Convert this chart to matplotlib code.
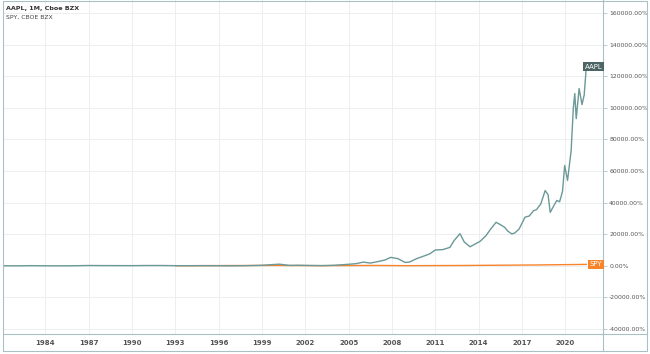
import matplotlib.pyplot as plt
from matplotlib.ticker import FuncFormatter
from matplotlib.lines import Line2D
from matplotlib.patches import Rectangle
import matplotlib.transforms as mtransforms

# AAPL 누적 수익률 (%) --- 그림에서 읽은 값
aapl_years = [1981.0, 1982.0, 1983.0, 1984.0, 1985.0, 1986.0, 1987.0, 1988.0,
              1989.0, 1990.0, 1991.0, 1992.0, 1993.0, 1994.0, 1995.0, 1996.0,
              1997.0, 1998.0, 1999.0, 2000.2, 2000.9, 2001.5, 2002.5, 2003.2,
              2004.0, 2004.8, 2005.5, 2006.0, 2006.5, 2007.0, 2007.5, 2007.9,
              2008.4, 2008.9, 2009.2, 2009.7, 2010.1, 2010.6, 2011.0, 2011.5,
              2012.0, 2012.3, 2012.7, 2013.0, 2013.4, 2013.7, 2014.1, 2014.5,
              2014.8, 2015.2, 2015.5, 2015.8, 2016.0, 2016.3, 2016.5, 2016.8,
              2017.2, 2017.5, 2017.8, 2018.0, 2018.3, 2018.6, 2018.8, 2018.95,
              2019.2, 2019.4, 2019.6, 2019.8, 2019.95, 2020.15, 2020.4, 2020.55,
              2020.65, 2020.75, 2020.95, 2021.15, 2021.3, 2021.45]
aapl_values = [0, -50, 60, -20, -40, 10, 150, 100,
               80, 60, 150, 150, 50, 30, 60, 0,
               -30, 60, 300, 1000, 200, 300, 150, 100,
               300, 800, 1300, 2300, 1700, 2600, 3600, 5300,
               4500, 2100, 2300, 4500, 5800, 7500, 10000, 10200,
               11600, 16000, 20300, 15000, 12000, 13500, 15500, 19000,
               22900, 27500, 26000, 24300, 22000, 20100, 20800, 23300,
               30700, 31500, 34900, 35500, 39200, 47600, 45000, 33800,
               38000, 41300, 40500, 47000, 63500, 54000, 73000, 100000,
               109000, 93100, 112200, 102000, 108000, 126000]

# SPY 누적 수익률 (%)
spy_years = [1993.0, 1996.0, 2000.0, 2003.0, 2007.0, 2009.0, 2013.0, 2018.0, 2021.45]
spy_values = [0, 100, 200, 60, 180, 40, 170, 500, 850]

x_ticks = [1984, 1987, 1990, 1993, 1996, 1999, 2002, 2005, 2008, 2011, 2014, 2017, 2020]
y_ticks = [-40000, -20000, 0, 20000, 40000, 60000, 80000, 100000, 120000, 140000, 160000]

aapl_color = '#6b9898'
spy_color = '#f7842b'
frame_color = '#a9c0c6'

fig = plt.figure(figsize=(6.5, 3.54), dpi=100)
ax = fig.add_axes([0.0046, 0.0565, 0.923, 0.9435])

ax.plot(spy_years, spy_values, color=spy_color, lw=1.0, zorder=2)
ax.plot(aapl_years, aapl_values, color=aapl_color, lw=1.0, zorder=3)

ax.set_xlim(1981.06, 2022.6)
ax.set_ylim(-43200, 168200)
ax.set_xticks(x_ticks)
ax.set_yticks(y_ticks)
ax.yaxis.tick_right()
ax.yaxis.set_major_formatter(FuncFormatter(lambda v, p: f'{v:.2f}%'))
ax.tick_params(axis='y', length=3, width=0.6, color='#b5c4c8', pad=1.5,
               labelsize=4.4, labelcolor='#555555')
ax.tick_params(axis='x', length=0, pad=4, labelsize=5.0, labelcolor='#555555')
for lbl in ax.get_xticklabels():
    lbl.set_fontweight('bold')

ax.grid(True, color='#eceff0', lw=0.7)
ax.set_axisbelow(True)
for side in ['top', 'left']:
    ax.spines[side].set_visible(False)
for side in ['right', 'bottom']:
    ax.spines[side].set_color(frame_color)
    ax.spines[side].set_linewidth(0.8)

# 바깥 테두리
fig.add_artist(Rectangle((0.0046, 0.0085), 0.991, 0.99, transform=fig.transFigure,
                         fill=False, edgecolor=frame_color, lw=0.8))
fig.add_artist(Line2D([0.9277, 0.9277], [0.0085, 0.0565], transform=fig.transFigure,
                      color=frame_color, lw=0.8))
fig.add_artist(Line2D([0.9277, 0.9955], [0.0565, 0.0565], transform=fig.transFigure,
                      color=frame_color, lw=0.8))

# 오른쪽 값 라벨
trans = mtransforms.blended_transform_factory(ax.transAxes, ax.transData)
ax.text(0.999, aapl_values[-1], 'AAPL', transform=trans, ha='right', va='center',
        fontsize=5, color='white', zorder=5,
        bbox=dict(boxstyle='square,pad=0.25', fc='#4c6565', ec='none'))
ax.text(0.999, spy_values[-1], 'SPY', transform=trans, ha='right', va='center',
        fontsize=5, color='white', zorder=5,
        bbox=dict(boxstyle='square,pad=0.25', fc=spy_color, ec='none'))

# 범례 텍스트
fig.text(0.009, 0.975, 'AAPL, 1M, Cboe BZX', fontsize=4.6, fontweight='bold',
         color='#333333', va='center')
fig.text(0.009, 0.952, 'SPY, CBOE BZX', fontsize=4.4, color='#444444', va='center')

plt.savefig('out.png', dpi=100)
